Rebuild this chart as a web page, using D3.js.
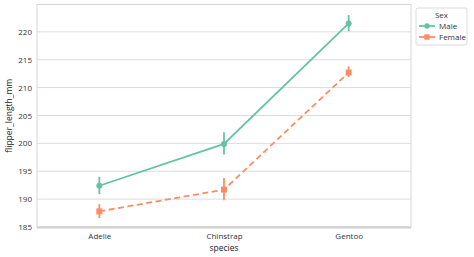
<!DOCTYPE html>
<html>
<head>
<meta charset="utf-8">
<script src="https://cdn.jsdelivr.net/npm/d3@7"></script>
<style>
  body { margin: 0; background: #fff; }
  svg { font-family: 'Open Sans', sans-serif; }
</style>
</head>
<body>
<script>
const width = 474;
const height = 257;

const species = ['Adelie', 'Chinstrap', 'Gentoo'];
const maleMean = [192.4, 199.9, 221.5];
const maleLow = [190.9, 198.0, 220.1];
const maleHigh = [194.0, 202.0, 223.0];
const femaleMean = [187.8, 191.7, 212.7];
const femaleLow = [186.6, 189.8, 211.9];
const femaleHigh = [189.1, 193.8, 213.8];
const yTicks = [185, 190, 195, 200, 205, 210, 215, 220];

const series = [
  { name: 'Male', color: '#66c2a5', dash: null, marker: 'circle', mean: maleMean, low: maleLow, high: maleHigh },
  { name: 'Female', color: '#fc8d62', dash: '6,3.5', marker: 'square', mean: femaleMean, low: femaleLow, high: femaleHigh }
];

const margin = { left: 37, right: 63, top: 4.5, bottom: 30 };

const svg = d3.select('body')
  .append('svg')
  .attr('width', width)
  .attr('height', height)

const x = d3.scalePoint()
  .domain(species)
  .range([margin.left, width - margin.right])
  .padding(0.5)

const y = d3.scaleLinear()
  .domain([185, 224.9])
  .range([height - margin.bottom, margin.top])

// Grid
svg.append('g')
  .selectAll('line')
  .data(yTicks)
  .enter()
  .append('line')
  .attr('x1', margin.left)
  .attr('x2', width - margin.right)
  .attr('y1', d => y(d))
  .attr('y2', d => y(d))
  .style('stroke', '#dcdcdc')
  .style('stroke-width', 1)

// Frame
svg.append('rect')
  .attr('x', margin.left)
  .attr('y', margin.top)
  .attr('width', width - margin.left - margin.right)
  .attr('height', height - margin.top - margin.bottom)
  .style('fill', 'none')
  .style('stroke', '#d6d6d6')
  .style('stroke-width', 1)

svg.append('line')
  .attr('x1', margin.left)
  .attr('x2', width - margin.right)
  .attr('y1', y(185) + 0.5)
  .attr('y2', y(185) + 0.5)
  .style('stroke', '#d0d0d0')
  .style('stroke-width', 2)

// Y axis
const yAxis = svg.append('g')
  .attr('transform', `translate(${margin.left},0)`)
  .call(d3.axisLeft(y).tickValues(yTicks).tickSize(0).tickPadding(5))
yAxis.select('.domain').remove()
yAxis.selectAll('text')
  .style('font-family', 'Open Sans')
  .style('font-size', '8px')
  .style('fill', '#333')

// X axis
const xAxis = svg.append('g')
  .attr('transform', `translate(0,${height - margin.bottom})`)
  .call(d3.axisBottom(x).tickSize(0).tickPadding(6))
xAxis.select('.domain').remove()
xAxis.selectAll('text')
  .style('font-family', 'Open Sans')
  .style('font-size', '8px')
  .style('fill', '#333')

svg.append('text')
  .attr('x', (margin.left + width - margin.right) / 2)
  .attr('y', 251)
  .attr('text-anchor', 'middle')
  .style('font-size', '8.5px')
  .style('fill', '#222')
  .text('species')

svg.append('text')
  .attr('transform', `translate(12,${(margin.top + height - margin.bottom) / 2}) rotate(-90)`)
  .attr('text-anchor', 'middle')
  .style('font-size', '8.5px')
  .style('fill', '#222')
  .text('flipper_length_mm')

// Lines, error bars, markers
const line = d3.line()
  .x((d, i) => x(species[i]))
  .y(d => y(d))

series.forEach(s => {
  const g = svg.append('g')

  g.append('path')
    .datum(s.mean)
    .attr('d', line)
    .style('fill', 'none')
    .style('stroke', s.color)
    .style('stroke-width', 1.8)
    .style('stroke-dasharray', s.dash)

  g.selectAll('.err')
    .data(species)
    .enter()
    .append('line')
    .attr('x1', d => x(d))
    .attr('x2', d => x(d))
    .attr('y1', (d, i) => y(s.low[i]))
    .attr('y2', (d, i) => y(s.high[i]))
    .style('stroke', s.color)
    .style('stroke-width', 1.8)

  if (s.marker === 'circle') {
    g.selectAll('circle')
      .data(s.mean)
      .enter()
      .append('circle')
      .attr('cx', (d, i) => x(species[i]))
      .attr('cy', d => y(d))
      .attr('r', 3)
      .style('fill', s.color)
  } else {
    g.selectAll('rect')
      .data(s.mean)
      .enter()
      .append('rect')
      .attr('x', (d, i) => x(species[i]) - 3)
      .attr('y', d => y(d) - 3)
      .attr('width', 6)
      .attr('height', 6)
      .style('fill', s.color)
  }
})

// Legend
const legend = svg.append('g')
  .attr('transform', 'translate(416,8)')

legend.append('rect')
  .attr('width', 51)
  .attr('height', 37)
  .attr('rx', 2)
  .style('fill', '#fff')
  .style('stroke', '#dcdcdc')

legend.append('text')
  .attr('x', 25.5)
  .attr('y', 10)
  .attr('text-anchor', 'middle')
  .style('font-size', '8px')
  .style('fill', '#333')
  .text('Sex')

series.forEach((s, i) => {
  const ly = 18 + i * 11
  legend.append('line')
    .attr('x1', 3)
    .attr('x2', 19)
    .attr('y1', ly)
    .attr('y2', ly)
    .style('stroke', s.color)
    .style('stroke-width', 1.8)
  if (s.marker === 'circle') {
    legend.append('circle')
      .attr('cx', 11)
      .attr('cy', ly)
      .attr('r', 2.7)
      .style('fill', s.color)
  } else {
    legend.append('rect')
      .attr('x', 8.3)
      .attr('y', ly - 2.7)
      .attr('width', 5.4)
      .attr('height', 5.4)
      .style('fill', s.color)
  }
  legend.append('text')
    .attr('x', 23)
    .attr('y', ly + 2.7)
    .style('font-size', '8px')
    .style('fill', '#333')
    .text(s.name)
})
</script>
</body>
</html>
